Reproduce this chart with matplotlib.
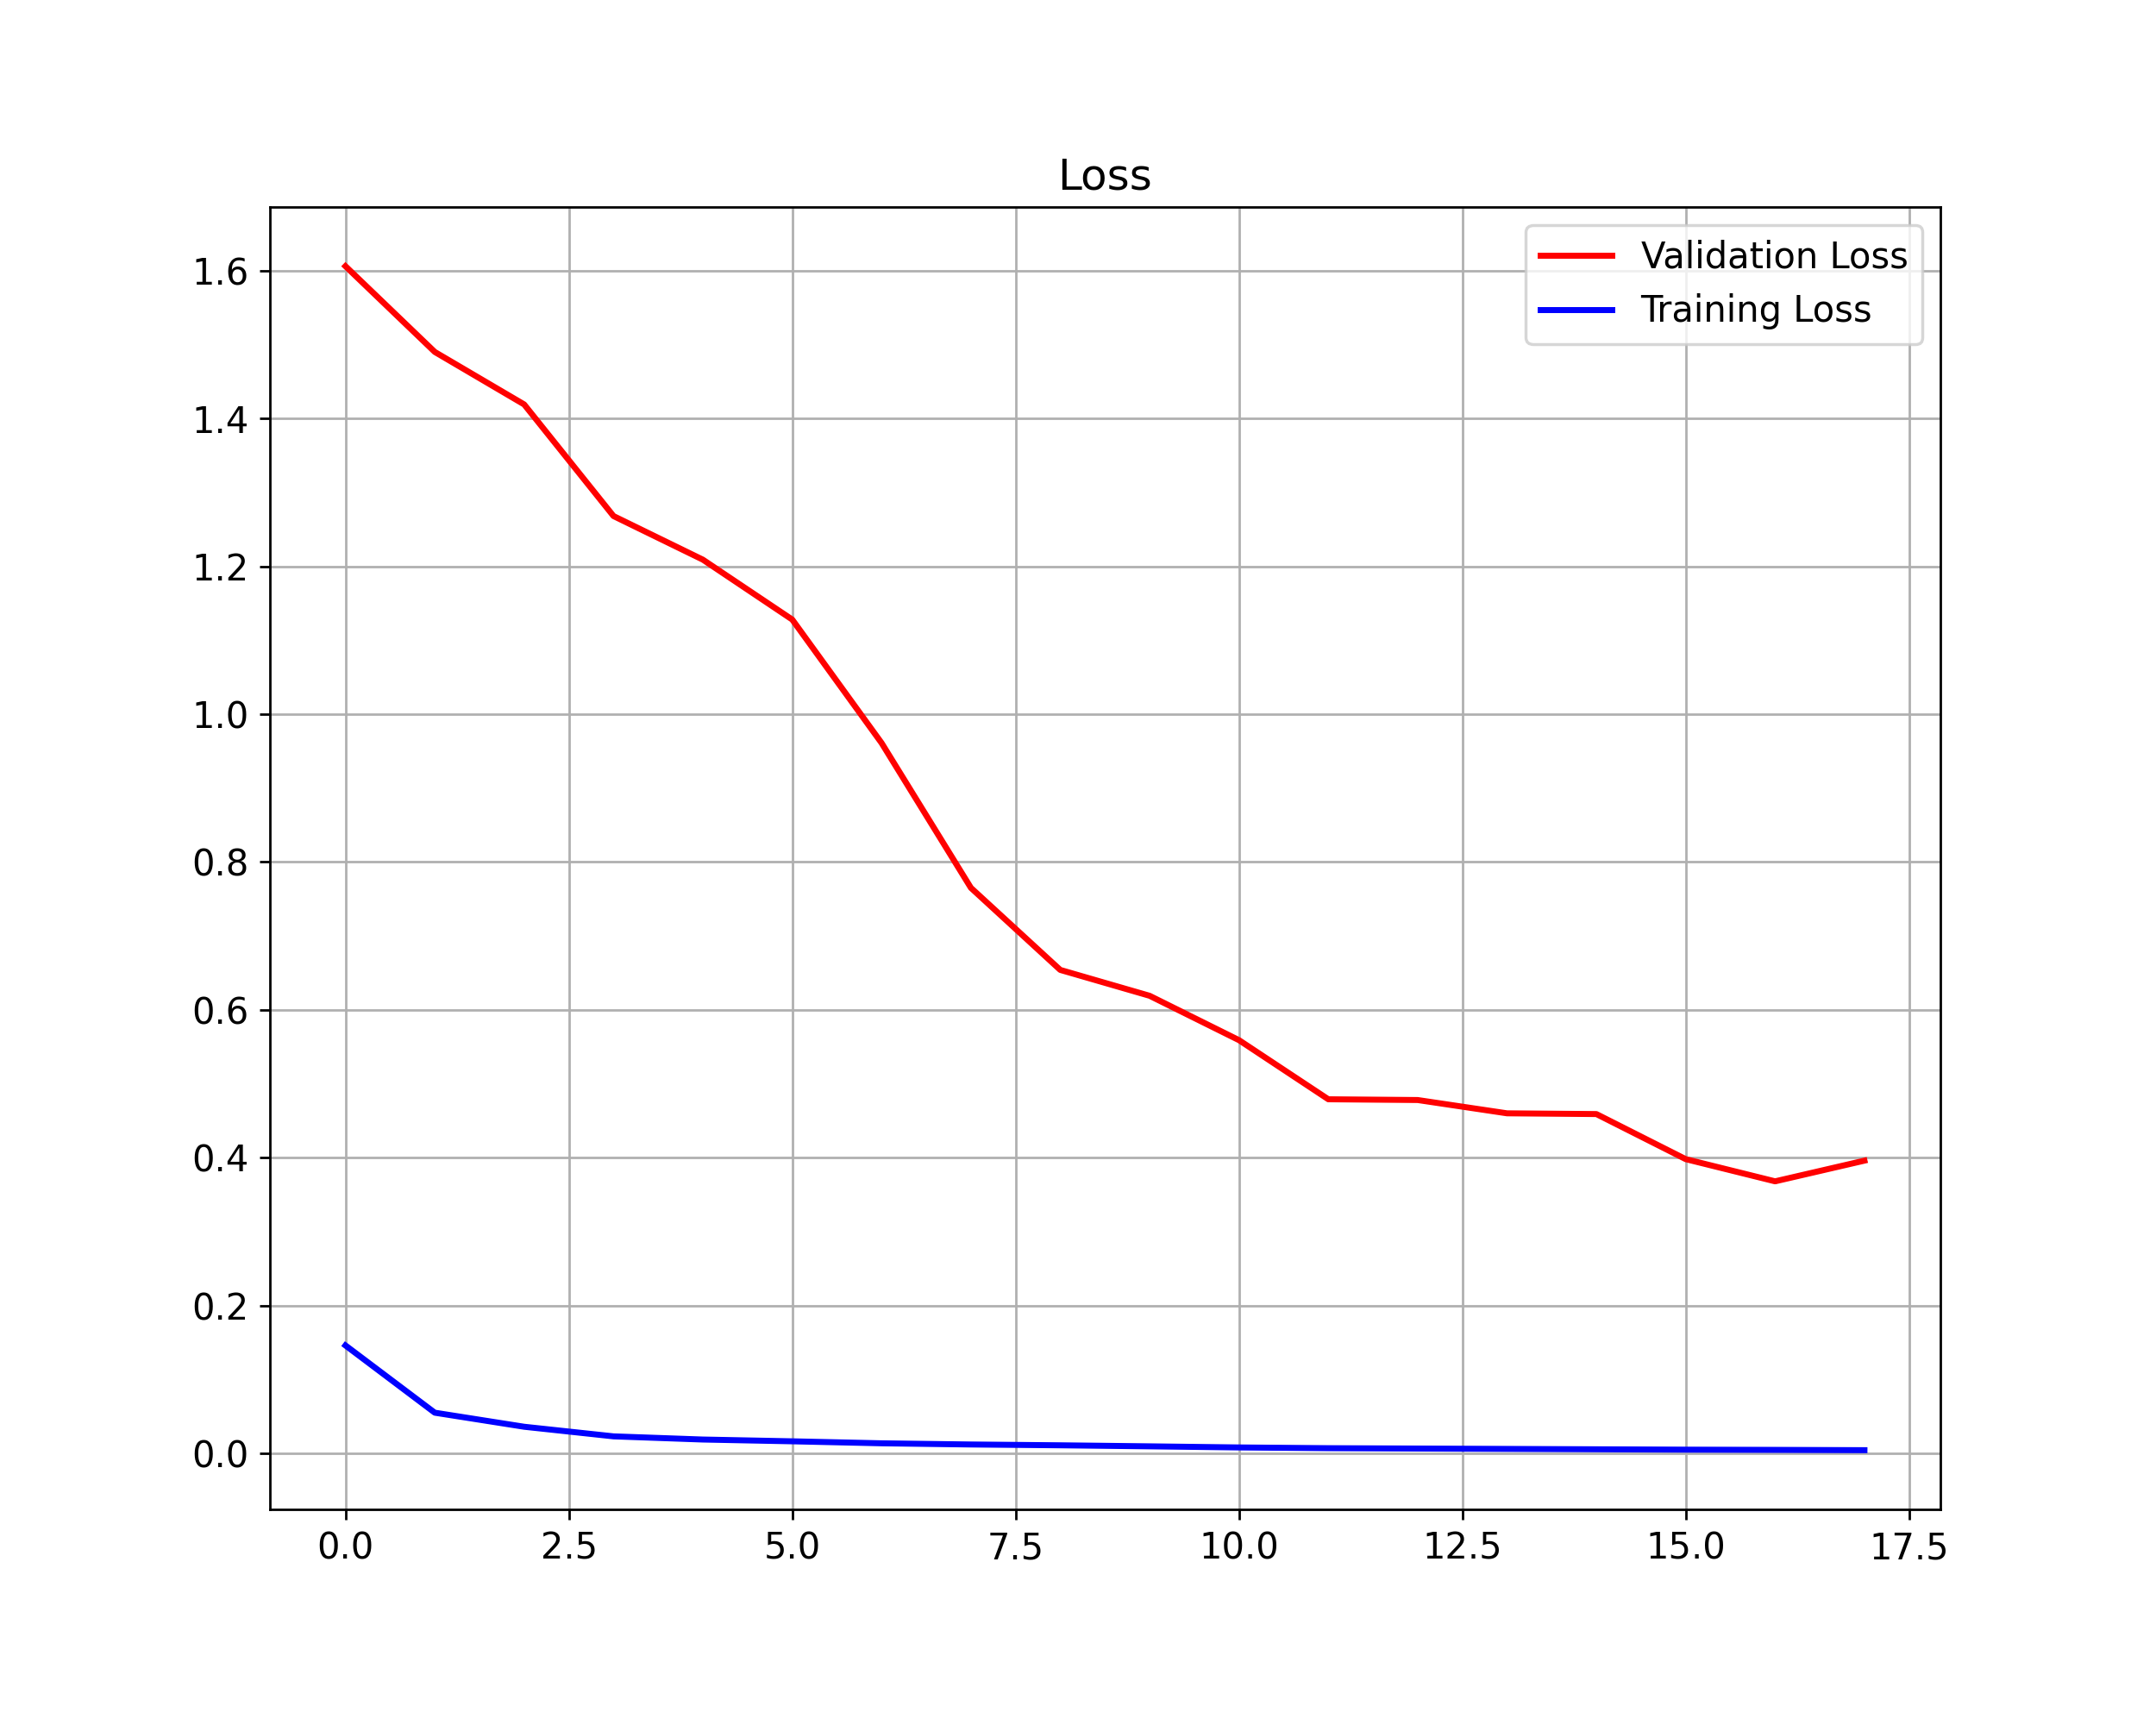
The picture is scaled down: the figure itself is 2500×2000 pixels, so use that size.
import matplotlib
matplotlib.use("Agg")
from matplotlib import pyplot as plt

epochs = list(range(18))

# validation loss per epoch
val_loss = [1.606, 1.490, 1.419, 1.268, 1.209, 1.128, 0.961, 0.765, 0.654,
            0.619, 0.559, 0.479, 0.478, 0.460, 0.459, 0.398, 0.368, 0.396]

# training loss per epoch
train_loss = [0.146, 0.055, 0.036, 0.023, 0.0187, 0.0163, 0.0136, 0.012, 0.0109,
              0.0095, 0.008, 0.007, 0.0065, 0.006, 0.0055, 0.005, 0.0047, 0.0043]

plt.rcParams.update({'font.size': 12})
fig = plt.figure(figsize=(10, 8))
plt.subplots_adjust(bottom=0.125)
plt.plot(epochs, val_loss, 'r', linewidth=2, label='Validation Loss')
plt.plot(epochs, train_loss, 'b', linewidth=2, label='Training Loss')
plt.title('Loss')
plt.legend()
plt.grid(True)

plt.savefig("out.png", dpi=250)
